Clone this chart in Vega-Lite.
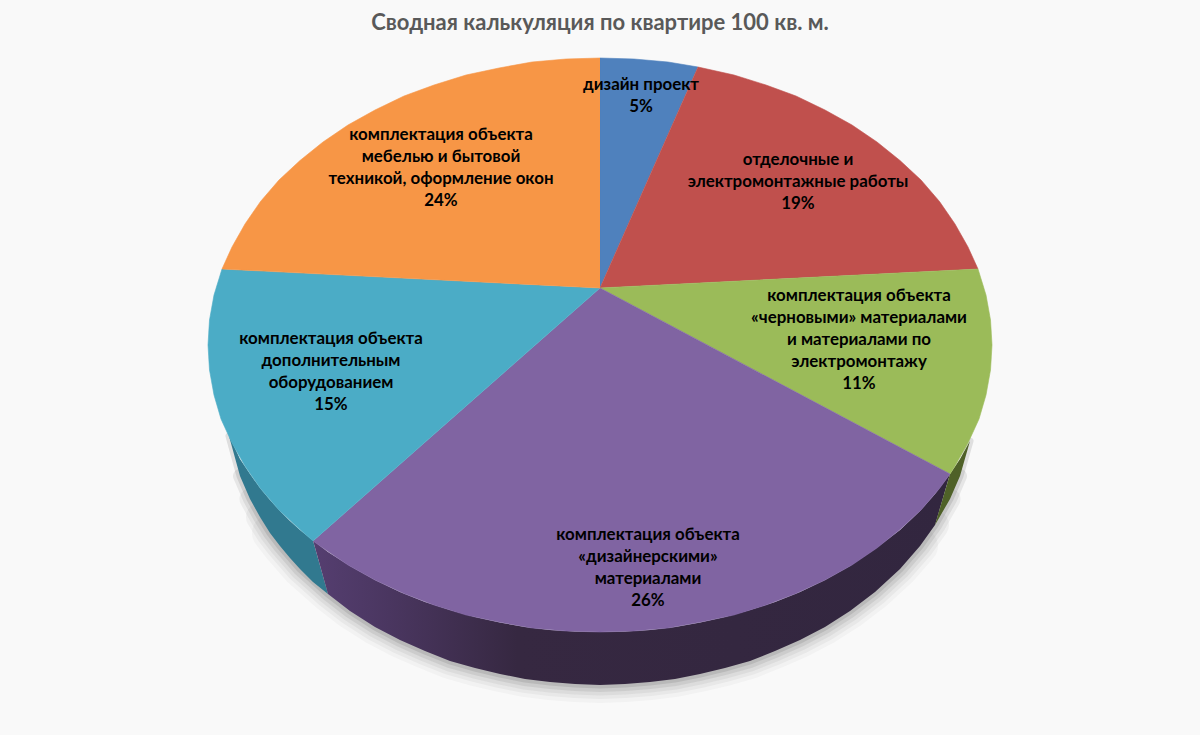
{
  "$schema": "https://vega.github.io/schema/vega-lite/v6.json",
  "width": 1200,
  "height": 695,
  "padding": {"top": 12, "left": 0, "right": 0, "bottom": 0},
  "autosize": {"type": "pad"},
  "background": "#f9f9f9",
  "title": {
    "text": "Сводная калькуляция по квартире 100 кв. м.",
    "anchor": "middle",
    "font": "Lato",
    "fontSize": 22,
    "fontWeight": "bold",
    "color": "#595959",
    "offset": 5
  },
  "view": {"stroke": null},
  "datasets": {
    "edge": [
      {"x": -371, "y": -148}, {"x": -360, "y": -188}, {"x": -350, "y": -211}, {"x": -340, "y": -229},
      {"x": -330, "y": -245}, {"x": -320, "y": -258}, {"x": -300, "y": -281}, {"x": -272, "y": -306},
      {"x": -250, "y": -323}, {"x": -225, "y": -339}, {"x": -200, "y": -352}, {"x": -175, "y": -363},
      {"x": -150, "y": -373}, {"x": -125, "y": -380}, {"x": -100, "y": -386}, {"x": -75, "y": -391},
      {"x": -50, "y": -394}, {"x": -25, "y": -396}, {"x": 0, "y": -397}, {"x": 25, "y": -396},
      {"x": 50, "y": -394}, {"x": 75, "y": -391}, {"x": 100, "y": -386}, {"x": 125, "y": -380},
      {"x": 150, "y": -373}, {"x": 175, "y": -363}, {"x": 200, "y": -352}, {"x": 225, "y": -339},
      {"x": 250, "y": -323}, {"x": 275, "y": -304}, {"x": 300, "y": -281}, {"x": 320, "y": -258},
      {"x": 335, "y": -237}, {"x": 350, "y": -211}, {"x": 360, "y": -188}, {"x": 370, "y": -153}
    ]
  },
  "layer": [
    {
      "data": {"name": "edge"},
      "transform": [{"filter": "abs(datum.x) < 335"}],
      "mark": {"type": "line", "stroke": "#555555", "strokeWidth": 36, "opacity": 0.04, "strokeCap": "round"},
      "encoding": {
        "x": {"field": "x", "type": "quantitative", "scale": {"domain": [-600, 600], "nice": false, "zero": false}, "axis": null},
        "y": {"field": "y", "type": "quantitative", "scale": {"domain": [-447, 248], "nice": false, "zero": false}, "axis": null}
      }
    },
    {
      "data": {"name": "edge"},
      "transform": [{"filter": "abs(datum.x) < 345"}],
      "mark": {"type": "line", "stroke": "#555555", "strokeWidth": 28, "opacity": 0.06, "strokeCap": "round"},
      "encoding": {
        "x": {"field": "x", "type": "quantitative", "axis": null},
        "y": {"field": "y", "type": "quantitative", "axis": null}
      }
    },
    {
      "data": {"name": "edge"},
      "transform": [{"filter": "abs(datum.x) < 355"}],
      "mark": {"type": "line", "stroke": "#555555", "strokeWidth": 21, "opacity": 0.08, "strokeCap": "round"},
      "encoding": {
        "x": {"field": "x", "type": "quantitative", "axis": null},
        "y": {"field": "y", "type": "quantitative", "axis": null}
      }
    },
    {
      "data": {"name": "edge"},
      "transform": [{"filter": "abs(datum.x) < 365"}],
      "mark": {"type": "line", "stroke": "#555555", "strokeWidth": 14, "opacity": 0.11, "strokeCap": "round"},
      "encoding": {
        "x": {"field": "x", "type": "quantitative", "axis": null},
        "y": {"field": "y", "type": "quantitative", "axis": null}
      }
    },
    {
      "data": {"name": "edge"},
      "mark": {"type": "line", "stroke": "#555555", "strokeWidth": 7, "opacity": 0.16, "strokeCap": "round"},
      "encoding": {
        "x": {"field": "x", "type": "quantitative", "axis": null},
        "y": {"field": "y", "type": "quantitative", "axis": null}
      }
    },
    {
      "data": {"values": [
        {"x": -371, "top": -148, "bottom": -148}, {"x": -360, "top": -171, "bottom": -188},
        {"x": -350, "top": -186, "bottom": -211}, {"x": -340, "top": -200, "bottom": -229},
        {"x": -330, "top": -212, "bottom": -245}, {"x": -320, "top": -223, "bottom": -258},
        {"x": -310, "top": -233, "bottom": -270}, {"x": -300, "top": -242, "bottom": -281},
        {"x": -287, "top": -252.5, "bottom": -294}, {"x": -272, "top": -306, "bottom": -306}
      ]},
      "mark": {"type": "area", "color": "#31798f"},
      "encoding": {
        "x": {"field": "x", "type": "quantitative", "axis": null},
        "y": {"field": "top", "type": "quantitative", "axis": null},
        "y2": {"field": "bottom"}
      }
    },
    {
      "data": {"values": [
        {"x": -287, "top": -252.5, "bottom": -252.5}, {"x": -272, "top": -264, "bottom": -306},
        {"x": -250, "top": -278, "bottom": -323}, {"x": -225, "top": -292, "bottom": -339},
        {"x": -200, "top": -304, "bottom": -352}, {"x": -175, "top": -314, "bottom": -363},
        {"x": -150, "top": -322, "bottom": -373}, {"x": -125, "top": -329, "bottom": -380},
        {"x": -100, "top": -334.5, "bottom": -386}, {"x": -75, "top": -339, "bottom": -391},
        {"x": -50, "top": -342, "bottom": -394}, {"x": -25, "top": -343.5, "bottom": -396},
        {"x": 0, "top": -344, "bottom": -397}, {"x": 25, "top": -343.5, "bottom": -396},
        {"x": 50, "top": -342, "bottom": -394}, {"x": 75, "top": -339, "bottom": -391},
        {"x": 100, "top": -334.5, "bottom": -386}, {"x": 125, "top": -329, "bottom": -380},
        {"x": 150, "top": -322, "bottom": -373}, {"x": 175, "top": -314, "bottom": -363},
        {"x": 200, "top": -304, "bottom": -352}, {"x": 225, "top": -292, "bottom": -339},
        {"x": 250, "top": -278, "bottom": -323}, {"x": 275, "top": -261, "bottom": -304},
        {"x": 300, "top": -242, "bottom": -281}, {"x": 320, "top": -223, "bottom": -258},
        {"x": 335, "top": -206, "bottom": -237}, {"x": 350, "top": -186, "bottom": -186}
      ]},
      "mark": {
        "type": "area",
        "color": {
          "gradient": "linear", "x1": 0, "x2": 1, "y1": 0, "y2": 0,
          "stops": [
            {"offset": 0, "color": "#553e70"},
            {"offset": 0.12, "color": "#4a3660"},
            {"offset": 0.32, "color": "#362841"},
            {"offset": 1, "color": "#32263f"}
          ]
        }
      },
      "encoding": {
        "x": {"field": "x", "type": "quantitative", "axis": null},
        "y": {"field": "top", "type": "quantitative", "axis": null},
        "y2": {"field": "bottom"}
      }
    },
    {
      "data": {"values": [
        {"x": 335, "top": -237, "bottom": -237}, {"x": 350, "top": -186, "bottom": -211},
        {"x": 360, "top": -171, "bottom": -188}, {"x": 370, "top": -153, "bottom": -153}
      ]},
      "mark": {"type": "area", "color": "#4f6128"},
      "encoding": {
        "x": {"field": "x", "type": "quantitative", "axis": null},
        "y": {"field": "top", "type": "quantitative", "axis": null},
        "y2": {"field": "bottom"}
      }
    },
    {
      "data": {"values": [
        {"slice": "design", "x": 0, "y": 0}, {"slice": "design", "x": 0, "y": 230}, {"slice": "design", "x": 34, "y": 229}, {"slice": "design", "x": 68, "y": 226}, {"slice": "design", "x": 98, "y": 221},
        {"slice": "finishing", "x": 0, "y": 0}, {"slice": "finishing", "x": 98, "y": 221}, {"slice": "finishing", "x": 134, "y": 213}, {"slice": "finishing", "x": 166, "y": 203}, {"slice": "finishing", "x": 196, "y": 192}, {"slice": "finishing", "x": 225, "y": 178}, {"slice": "finishing", "x": 252, "y": 163}, {"slice": "finishing", "x": 277, "y": 146}, {"slice": "finishing", "x": 300, "y": 127.5}, {"slice": "finishing", "x": 321, "y": 108}, {"slice": "finishing", "x": 339.5, "y": 86.5}, {"slice": "finishing", "x": 355, "y": 64}, {"slice": "finishing", "x": 368, "y": 41}, {"slice": "finishing", "x": 378, "y": 19},
        {"slice": "rough", "x": 0, "y": 0}, {"slice": "rough", "x": 378, "y": 19}, {"slice": "rough", "x": 386, "y": -7}, {"slice": "rough", "x": 390.5, "y": -32}, {"slice": "rough", "x": 392, "y": -57}, {"slice": "rough", "x": 390.5, "y": -82}, {"slice": "rough", "x": 386, "y": -107}, {"slice": "rough", "x": 379, "y": -131}, {"slice": "rough", "x": 368, "y": -155}, {"slice": "rough", "x": 355, "y": -178}, {"slice": "rough", "x": 350, "y": -186},
        {"slice": "designer", "x": 0, "y": 0}, {"slice": "designer", "x": 350, "y": -186}, {"slice": "designer", "x": 339.5, "y": -200.5}, {"slice": "designer", "x": 321, "y": -222}, {"slice": "designer", "x": 300, "y": -241.5}, {"slice": "designer", "x": 277, "y": -260}, {"slice": "designer", "x": 252, "y": -277}, {"slice": "designer", "x": 225, "y": -292}, {"slice": "designer", "x": 196, "y": -305.5}, {"slice": "designer", "x": 166, "y": -317}, {"slice": "designer", "x": 134, "y": -327}, {"slice": "designer", "x": 101, "y": -334}, {"slice": "designer", "x": 68, "y": -340}, {"slice": "designer", "x": 34, "y": -343}, {"slice": "designer", "x": 0, "y": -344}, {"slice": "designer", "x": -34, "y": -343}, {"slice": "designer", "x": -68, "y": -340}, {"slice": "designer", "x": -101, "y": -334}, {"slice": "designer", "x": -134, "y": -327}, {"slice": "designer", "x": -166, "y": -317}, {"slice": "designer", "x": -196, "y": -305.5}, {"slice": "designer", "x": -225, "y": -292}, {"slice": "designer", "x": -252, "y": -277}, {"slice": "designer", "x": -277, "y": -260}, {"slice": "designer", "x": -287, "y": -253},
        {"slice": "extra", "x": 0, "y": 0}, {"slice": "extra", "x": -287, "y": -253}, {"slice": "extra", "x": -300, "y": -241.5}, {"slice": "extra", "x": -321, "y": -222}, {"slice": "extra", "x": -339.5, "y": -200.5}, {"slice": "extra", "x": -355, "y": -178}, {"slice": "extra", "x": -368, "y": -155}, {"slice": "extra", "x": -379, "y": -131}, {"slice": "extra", "x": -386, "y": -107}, {"slice": "extra", "x": -390.5, "y": -82}, {"slice": "extra", "x": -392, "y": -57}, {"slice": "extra", "x": -390.5, "y": -32}, {"slice": "extra", "x": -386, "y": -7}, {"slice": "extra", "x": -378, "y": 19},
        {"slice": "furnishing", "x": 0, "y": 0}, {"slice": "furnishing", "x": -378, "y": 19}, {"slice": "furnishing", "x": -368, "y": 41}, {"slice": "furnishing", "x": -355, "y": 64}, {"slice": "furnishing", "x": -339.5, "y": 86.5}, {"slice": "furnishing", "x": -321, "y": 108}, {"slice": "furnishing", "x": -300, "y": 127.5}, {"slice": "furnishing", "x": -277, "y": 146}, {"slice": "furnishing", "x": -252, "y": 163}, {"slice": "furnishing", "x": -225, "y": 178}, {"slice": "furnishing", "x": -196, "y": 192}, {"slice": "furnishing", "x": -166, "y": 203}, {"slice": "furnishing", "x": -134, "y": 213}, {"slice": "furnishing", "x": -101, "y": 220}, {"slice": "furnishing", "x": -68, "y": 226}, {"slice": "furnishing", "x": -34, "y": 229}, {"slice": "furnishing", "x": 0, "y": 230}
      ]},
      "mark": {"type": "line", "strokeWidth": 0.6},
      "encoding": {
        "x": {"field": "x", "type": "quantitative", "axis": null},
        "y": {"field": "y", "type": "quantitative", "axis": null},
        "order": {"value": null},
        "detail": {"field": "slice"},
        "fill": {
          "field": "slice", "type": "nominal", "legend": null,
          "scale": {
            "domain": ["design", "finishing", "rough", "designer", "extra", "furnishing"],
            "range": ["#4f81bd", "#c0504d", "#9bbb59", "#8064a2", "#4bacc6", "#f79646"]
          }
        },
        "stroke": {
          "field": "slice", "type": "nominal", "legend": null,
          "scale": {
            "domain": ["design", "finishing", "rough", "designer", "extra", "furnishing"],
            "range": ["#4f81bd", "#c0504d", "#9bbb59", "#8064a2", "#4bacc6", "#f79646"]
          }
        }
      }
    },
    {
      "data": {"values": [
        {"label": "дизайн проект\n5%", "x": 41, "y": 203},
        {"label": "отделочные и\nэлектромонтажные работы\n19%", "x": 198, "y": 128},
        {"label": "комплектация объекта\n«черновыми» материалами\nи материалами по\nэлектромонтажу\n11%", "x": 259, "y": -8},
        {"label": "комплектация объекта\n«дизайнерскими»\nматериалами\n26%", "x": 48, "y": -247},
        {"label": "комплектация объекта\nдополнительным\nоборудованием\n15%", "x": -269, "y": -51},
        {"label": "комплектация объекта\nмебелью и бытовой\nтехникой, оформление окон\n24%", "x": -159, "y": 153}
      ]},
      "mark": {"type": "text", "font": "Lato", "fontSize": 16.9, "fontWeight": "bold", "color": "#000000", "lineBreak": "\n", "lineHeight": 22, "align": "center", "baseline": "middle"},
      "encoding": {
        "x": {"field": "x", "type": "quantitative", "axis": null},
        "y": {"field": "y", "type": "quantitative", "axis": null},
        "text": {"field": "label", "type": "nominal"}
      }
    }
  ]
}
